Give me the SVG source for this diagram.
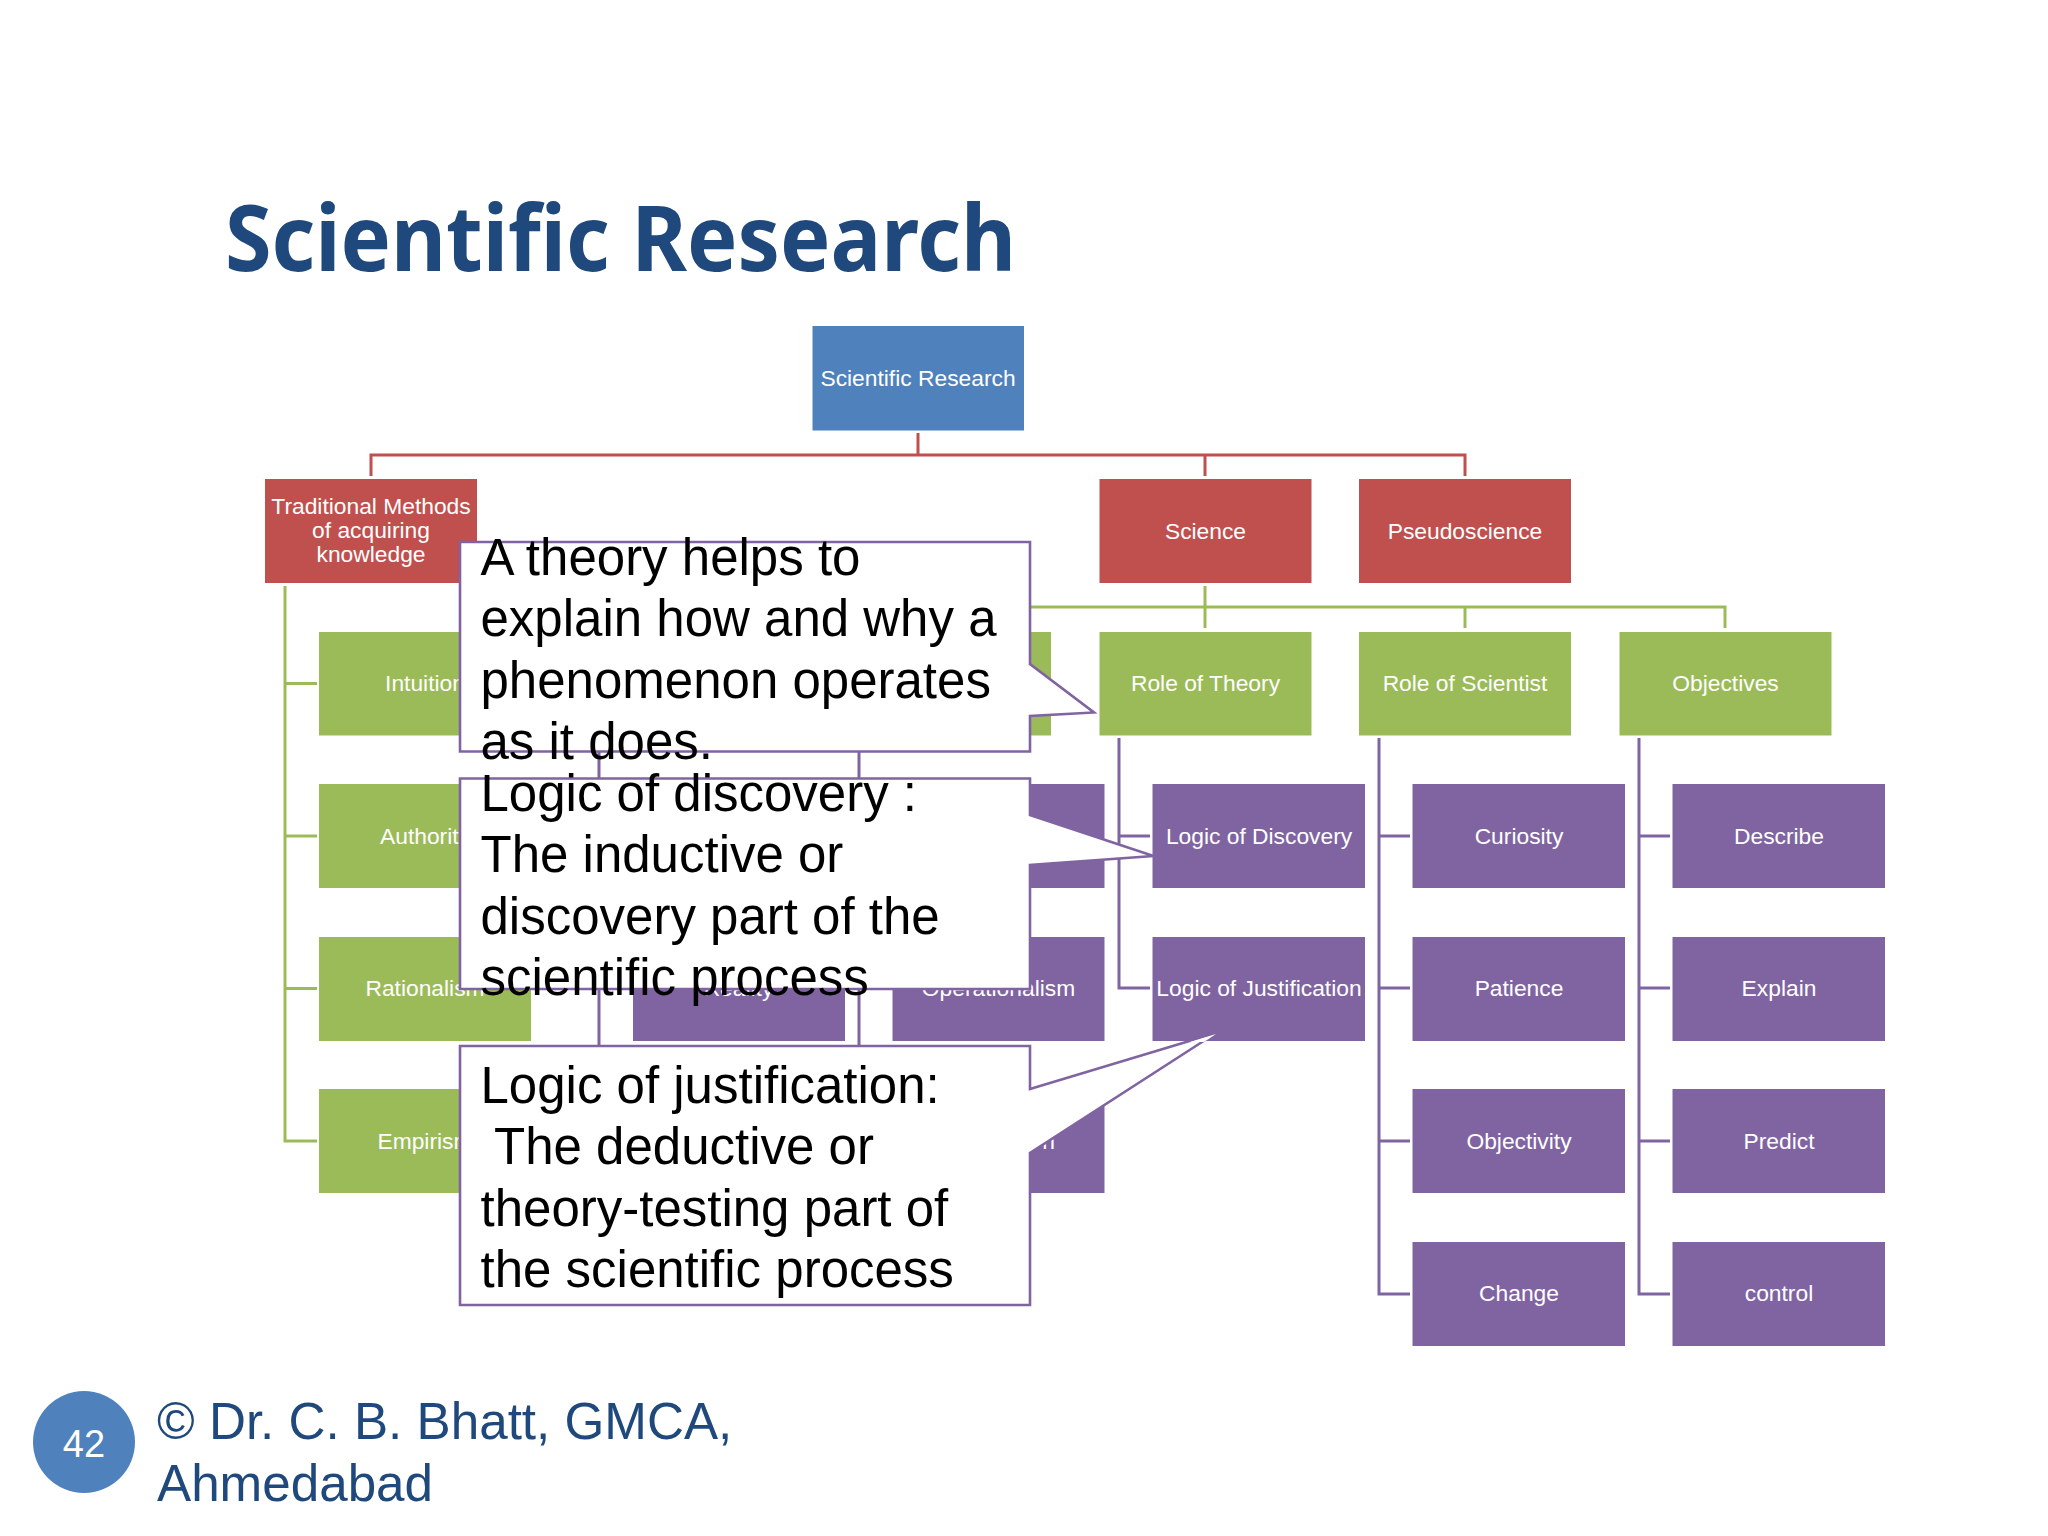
<svg xmlns="http://www.w3.org/2000/svg" width="2048" height="1536" viewBox="0 0 2048 1536">
<style>
text{font-family:"Liberation Sans",Arial,sans-serif}
.n{font-size:22.8px;fill:#fff;text-anchor:middle}
.c{font-size:51px;fill:#000}
.f{font-size:51.200px;fill:#1f497d}
.blue{fill:#4f81bd}.red{fill:#c0504d}.green{fill:#9bbb59}.purple{fill:#8064a2}
.lr,.lg,.lp{fill:none;stroke-width:3}
.lr{stroke:#c0504d}.lg{stroke:#9bbb59}.lp{stroke:#8064a2}
.call{fill:#fff;stroke:#8064a2;stroke-width:2.600}
</style>
<rect width="2048" height="1536" fill="#fff"/>
<text id="title" x="225" y="270.500" font-size="92" font-weight="700" textLength="791" lengthAdjust="spacingAndGlyphs" fill="#1f497d" style="font-family:'Noto Sans',sans-serif">Scientific Research</text>
<g id="connectors">
<path class="lr" d="M918 433V455M371 476V455H1465V476M1205 455V476"/>
<path class="lg" d="M1205 586V628M1030 607H1725V628M1465 607V628"/>
<path class="lg" d="M285 586V1141H317M285 683.500H317M285 836H317M285 988.500H317"/>
<path class="lp" d="M599 738V1141M859 738V1141"/>
<path class="lp" d="M1119 738V988H1150M1119 836H1150"/>
<path class="lp" d="M1379 738V1294H1410M1379 836H1410M1379 988H1410M1379 1141H1410"/>
<path class="lp" d="M1639 738V1294H1670M1639 836H1670M1639 988H1670M1639 1141H1670"/>
</g>
<g id="n-root"><rect class="blue" x="812.500" y="326" width="211.500" height="104.500"/><text class="n" x="918" y="385.500">Scientific Research</text></g>
<g id="n-traditional"><rect class="red" x="265" y="479" width="212" height="104"/><text class="n" x="371" y="514">Traditional Methods</text><text class="n" x="371" y="537.500">of acquiring</text><text class="n" x="371" y="561.500">knowledge</text></g>
<g id="n-science"><rect class="red" x="1099.500" y="479" width="212" height="104"/><text class="n" x="1205.500" y="539">Science</text></g>
<g id="n-pseudoscience"><rect class="red" x="1359" y="479" width="212" height="104"/><text class="n" x="1465" y="539">Pseudoscience</text></g>
<g id="n-intuition"><rect class="green" x="319" y="632" width="212" height="103.500"/><text class="n" x="425" y="691">Intuition</text></g>
<g id="n-authority"><rect class="green" x="319" y="784" width="212" height="104"/><text class="n" x="425" y="843.500">Authority</text></g>
<g id="n-rationalism"><rect class="green" x="319" y="937" width="212" height="104"/><text class="n" x="425" y="996">Rationalism</text></g>
<g id="n-empirism"><rect class="green" x="319" y="1089" width="212" height="104"/><text class="n" x="425" y="1149">Empirism</text></g>
<g id="n-hidden-green"><rect class="green" x="839" y="632" width="212" height="103.500"/></g>
<g id="n-theory"><rect class="green" x="1099.500" y="632" width="212" height="103.500"/><text class="n" x="1205.500" y="691">Role of Theory</text></g>
<g id="n-scientist"><rect class="green" x="1359" y="632" width="212" height="103.500"/><text class="n" x="1465" y="691">Role of Scientist</text></g>
<g id="n-objectives"><rect class="green" x="1619.500" y="632" width="212" height="103.500"/><text class="n" x="1725.500" y="691">Objectives</text></g>
<g id="n-p1"><rect class="purple" x="892.500" y="784" width="212" height="104"/></g>
<g id="n-reality"><rect class="purple" x="633" y="937" width="212" height="104"/><text class="n" x="738.500" y="996">Reality</text></g>
<g id="n-operationalism"><rect class="purple" x="892.500" y="937" width="212" height="104"/><text class="n" x="998.500" y="996">Operationalism</text></g>
<g id="n-p4"><rect class="purple" x="892.500" y="1089" width="212" height="104"/><text class="n" x="1055" y="1149" style="text-anchor:end">n</text></g>
<g id="n-discovery"><rect class="purple" x="1152.500" y="784" width="212.500" height="104"/><text class="n" x="1259" y="843.500">Logic of Discovery</text></g>
<g id="n-justification"><rect class="purple" x="1152.500" y="937" width="212.500" height="104"/><text class="n" x="1259" y="996">Logic of Justification</text></g>
<g id="n-curiosity"><rect class="purple" x="1412.500" y="784" width="212.500" height="104"/><text class="n" x="1519" y="843.500">Curiosity</text></g>
<g id="n-patience"><rect class="purple" x="1412.500" y="937" width="212.500" height="104"/><text class="n" x="1519" y="996">Patience</text></g>
<g id="n-objectivity"><rect class="purple" x="1412.500" y="1089" width="212.500" height="104"/><text class="n" x="1519" y="1149">Objectivity</text></g>
<g id="n-change"><rect class="purple" x="1412.500" y="1242" width="212.500" height="104"/><text class="n" x="1519" y="1301">Change</text></g>
<g id="n-describe"><rect class="purple" x="1672.500" y="784" width="212.500" height="104"/><text class="n" x="1779" y="843.500">Describe</text></g>
<g id="n-explain"><rect class="purple" x="1672.500" y="937" width="212.500" height="104"/><text class="n" x="1779" y="996">Explain</text></g>
<g id="n-predict"><rect class="purple" x="1672.500" y="1089" width="212.500" height="104"/><text class="n" x="1779" y="1149">Predict</text></g>
<g id="n-control"><rect class="purple" x="1672.500" y="1242" width="212.500" height="104"/><text class="n" x="1779" y="1301">control</text></g>
<g id="callout-theory"><path class="call" d="M460 542H1030V664L1094 712.500L1030 716V751.500H460Z"/><text class="c" x="480.500" y="575">A theory helps to</text><text class="c" x="480.500" y="636">explain how and why a</text><text class="c" x="480.500" y="697.500">phenomenon operates</text><text class="c" x="480.500" y="758.500">as it does.</text></g>
<g id="callout-discovery"><path class="call" d="M460 778.500H1030V815L1153.500 856L1030 865V989H460Z"/><text class="c" x="480.500" y="811">Logic of discovery :</text><text class="c" x="480.500" y="872">The inductive or</text><text class="c" x="480.500" y="933.500">discovery part of the</text><text class="c" x="480.500" y="994.500">scientific process</text></g>
<g id="callout-justification"><path class="call" d="M460 1046H1030V1089L1216 1033L1030 1153V1305H460Z"/><polygon fill="#fff" points="1190,1042 1216,1034 1204,1042"/><text class="c" x="480.500" y="1102.500">Logic of justification:</text><text class="c" x="494" y="1164">The deductive or</text><text class="c" x="480.500" y="1225.500">theory-testing part of</text><text class="c" x="480.500" y="1287">the scientific process</text></g>
<g id="footer"><circle class="blue" cx="84" cy="1442" r="51"/><text x="84" y="1456.500" font-size="38" fill="#fff" text-anchor="middle">42</text><text class="f" x="157" y="1439">© Dr. C. B. Bhatt, GMCA,</text><text class="f" x="157" y="1500.500">Ahmedabad</text></g>
</svg>
